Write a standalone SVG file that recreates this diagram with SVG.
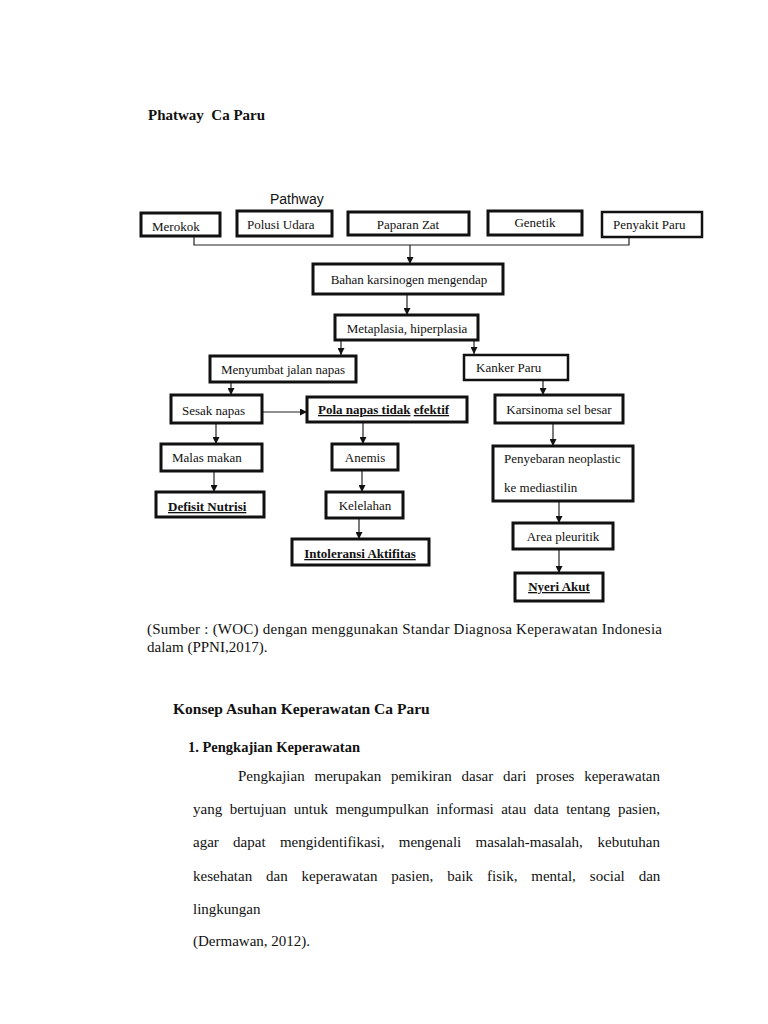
<svg xmlns="http://www.w3.org/2000/svg" width="768" height="1024" viewBox="0 0 768 1024">
<defs>
<marker id="ah" viewBox="0 0 10 10" refX="10" refY="5" markerWidth="7" markerHeight="7" markerUnits="userSpaceOnUse" orient="auto">
<path d="M0,0 L10,5 L0,10 Z" fill="#111"/>
</marker>
</defs>
<style>
.box{fill:#fff;stroke:#111;stroke-width:3}
.t{font-family:"Liberation Serif","Times New Roman",serif;font-size:13px;fill:#111}
.tb{font-family:"Liberation Serif","Times New Roman",serif;font-size:13px;font-weight:bold;fill:#111;text-decoration:underline}
.c{text-anchor:middle}
.ln{fill:none;stroke:#222;stroke-width:1.2}
.ar{fill:none;stroke:#222;stroke-width:1.2;marker-end:url(#ah)}
.body{font-family:"Liberation Serif","Times New Roman",serif;font-size:15px;fill:#111}
.hb{font-family:"Liberation Serif","Times New Roman",serif;font-size:15px;font-weight:bold;fill:#111}
</style>
<rect width="768" height="1024" fill="#fff"/>
<text x="148" y="120" class="hb" xml:space="preserve">Phatway  Ca Paru</text>
<text x="270" y="204" style="font-family:'Liberation Sans',Arial,sans-serif;font-size:14px;fill:#111">Pathway</text>

<g id="connectors">
<path class="ln" d="M194,236 V245 H629 V237"/>
<path class="ar" d="M410,245 V264"/>
<path class="ar" d="M407,294 V315"/>
<path class="ar" d="M341,340 V355"/>
<path class="ar" d="M474,340 V354"/>
<path class="ar" d="M231,382 V395"/>
<path class="ar" d="M262,412 H307"/>
<path class="ar" d="M543,380 V395"/>
<path class="ar" d="M216,423 V444"/>
<path class="ar" d="M363,422 V444"/>
<path class="ar" d="M553,423 V446"/>
<path class="ar" d="M214,471 V492"/>
<path class="ar" d="M362,470 V492"/>
<path class="ar" d="M359,518 V539"/>
<path class="ar" d="M559,501 V523"/>
<path class="ar" d="M559,549 V573"/>
</g>

<g id="merokok"><rect class="box" x="141" y="213" width="79" height="23"/><text class="t" x="152" y="231">Merokok</text></g>
<g id="polusi"><rect class="box" x="237" y="211" width="95" height="25"/><text class="t" x="247" y="229">Polusi Udara</text></g>
<g id="paparan"><rect class="box" x="348" y="212" width="121" height="23"/><text class="t c" x="408" y="229">Paparan Zat</text></g>
<g id="genetik"><rect class="box" x="488" y="211" width="94" height="24"/><text class="t c" x="535" y="227">Genetik</text></g>
<g id="penyakit"><rect class="box" x="602" y="212" width="100" height="25" style="stroke-width:2.5"/><text class="t" x="613" y="229">Penyakit Paru</text></g>
<g id="bahan"><rect class="box" x="313" y="264" width="190" height="30"/><text class="t c" x="409" y="284">Bahan karsinogen mengendap</text></g>
<g id="metaplasia"><rect class="box" x="335" y="315" width="143" height="25"/><text class="t c" x="407" y="333">Metaplasia, hiperplasia</text></g>
<g id="menyumbat"><rect class="box" x="210" y="356" width="146" height="26"/><text class="t c" x="283" y="374">Menyumbat jalan napas</text></g>
<g id="kanker"><rect class="box" x="464" y="355" width="104" height="25" style="stroke-width:2.5"/><text class="t" x="476" y="372">Kanker Paru</text></g>
<g id="sesak"><rect class="box" x="171" y="395" width="91" height="28"/><text class="t" x="182" y="415">Sesak napas</text></g>
<g id="pola"><rect class="box" x="307" y="397" width="160" height="25"/><text class="tb" x="318" y="414" style="text-decoration:none"><tspan text-decoration="underline">Pola napas tidak</tspan> <tspan text-decoration="underline">efektif</tspan></text></g>
<g id="karsinoma"><rect class="box" x="495" y="395" width="128" height="28"/><text class="t c" x="559" y="414">Karsinoma sel besar</text></g>
<g id="penyebaran"><rect class="box" x="493" y="446" width="140" height="55"/><text class="t" x="504" y="463">Penyebaran neoplastic</text><text class="t" x="504" y="492">ke mediastilin</text></g>
<g id="malas"><rect class="box" x="161" y="444" width="101" height="27"/><text class="t" x="172" y="462">Malas makan</text></g>
<g id="anemis"><rect class="box" x="332" y="444" width="66" height="26"/><text class="t c" x="365" y="462">Anemis</text></g>
<g id="defisit"><rect class="box" x="156" y="492" width="108" height="25"/><text class="tb" x="168" y="511">Defisit Nutrisi</text></g>
<g id="kelelahan"><rect class="box" x="326" y="492" width="77" height="26"/><text class="t c" x="365" y="510">Kelelahan</text></g>
<g id="intoleransi"><rect class="box" x="292" y="539" width="137" height="26"/><text class="tb c" x="360" y="558">Intoleransi Aktifitas</text></g>
<g id="area"><rect class="box" x="513" y="523" width="100" height="26"/><text class="t c" x="563" y="541">Area pleuritik</text></g>
<g id="nyeri"><rect class="box" x="515" y="573" width="88" height="28"/><text class="tb c" x="559" y="591">Nyeri Akut</text></g>

<text class="body" x="147" y="634" textLength="515" lengthAdjust="spacing">(Sumber : (WOC) dengan menggunakan Standar Diagnosa Keperawatan Indonesia</text>
<text class="body" x="147" y="652">dalam (PPNI,2017).</text>

<text class="hb" x="173" y="714" style="font-size:15.5px">Konsep Asuhan Keperawatan Ca Paru</text>
<text class="hb" x="188" y="752" style="font-size:14.5px">1. Pengkajian Keperawatan</text>

<text class="body" y="781"><tspan x="238">Pengkajian</tspan><tspan x="314.5">merupakan</tspan><tspan x="390.9">pemikiran</tspan><tspan x="461.5">dasar</tspan><tspan x="503">dari</tspan><tspan x="536.1">proses</tspan><tspan x="584.2">keperawatan</tspan></text>
<text class="body" y="814"><tspan x="193">yang</tspan><tspan x="229.7">bertujuan</tspan><tspan x="293.8">untuk</tspan><tspan x="335.5">mengumpulkan</tspan><tspan x="436.3">informasi</tspan><tspan x="501.2">atau</tspan><tspan x="533.7">data</tspan><tspan x="566.2">tentang</tspan><tspan x="617.9">pasien,</tspan></text>
<text class="body" y="847"><tspan x="193">agar</tspan><tspan x="233.1">dapat</tspan><tspan x="279.9">mengidentifikasi,</tspan><tspan x="398.8">mengenali</tspan><tspan x="475.6">masalah-masalah,</tspan><tspan x="597.5">kebutuhan</tspan></text>
<text class="body" y="881"><tspan x="193">kesehatan</tspan><tspan x="266">dan</tspan><tspan x="301.6">keperawatan</tspan><tspan x="391.3">pasien,</tspan><tspan x="447.3">baik</tspan><tspan x="487">fisik,</tspan><tspan x="531.3">mental,</tspan><tspan x="589.8">social</tspan><tspan x="638.7">dan</tspan></text>
<text class="body" x="193" y="914">lingkungan</text>
<text class="body" x="193" y="946">(Dermawan, 2012).</text>
</svg>
